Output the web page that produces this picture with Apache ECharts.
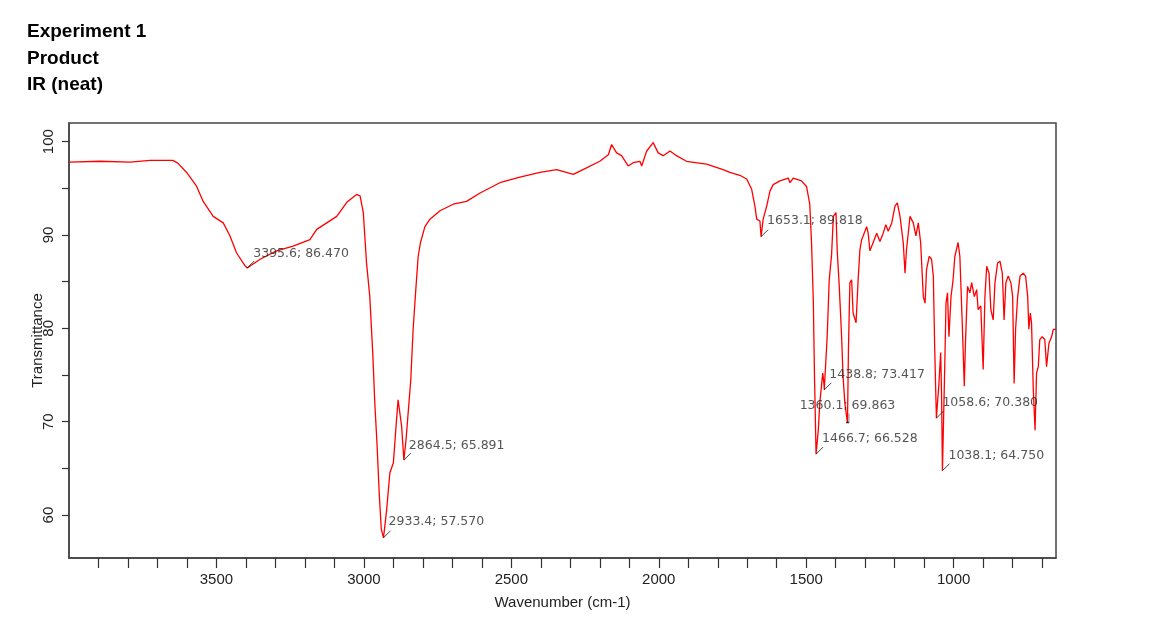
<!DOCTYPE html>
<html>
<head>
<meta charset="utf-8">
<script src="https://cdn.jsdelivr.net/npm/echarts@6/dist/echarts.min.js"></script>
<style>
  html, body { margin: 0; padding: 0; background: #fff; }
  #chart { width: 1157px; height: 641px; }
</style>
</head>
<body>
<div id="chart"></div>
<script>
// spectrum (cm-1, %T)
var wavenumber = [
  4000, 3895, 3793, 3725, 3648, 3631, 3601, 3567, 3545, 3511, 3477, 3454, 3432, 3403, 3395.6,
  3352, 3296, 3240, 3183, 3160, 3126, 3092, 3058, 3025, 3013, 3002, 2991, 2980, 2970, 2963,
  2955, 2948, 2941, 2933.4, 2923, 2912, 2900, 2891, 2884, 2878, 2872, 2864.5, 2857, 2850,
  2841, 2833, 2824, 2816, 2808, 2793, 2776, 2742, 2697, 2652, 2606, 2539, 2471, 2403, 2346,
  2290, 2245, 2200, 2171, 2160, 2143, 2126, 2104, 2087, 2064, 2058, 2041, 2019, 2002, 1985,
  1962, 1940, 1906, 1838, 1782, 1759, 1725, 1702, 1685, 1674, 1668, 1657, 1653.1, 1646, 1634,
  1623, 1612, 1589, 1561, 1555, 1544, 1516, 1499, 1488, 1482, 1476, 1472, 1466.7, 1459, 1454,
  1444, 1440, 1438.8, 1429, 1422, 1414, 1408, 1399, 1395, 1388, 1380, 1375, 1369, 1360.1,
  1357, 1352, 1346, 1341, 1331, 1324, 1318, 1312, 1307, 1295, 1290, 1284, 1273, 1261, 1250,
  1239, 1230, 1222, 1210, 1199, 1191, 1182, 1171, 1165, 1160, 1148, 1137, 1128, 1120, 1112,
  1103, 1097, 1092, 1083, 1075, 1069, 1064, 1058.6, 1050, 1044, 1041, 1038.1, 1030, 1026,
  1021, 1016, 1009, 1002, 996, 990, 985, 979, 971, 964, 960, 953, 945, 939, 930, 922, 917,
  908, 900, 894, 888, 880, 874, 866, 860, 851, 843, 835, 829, 823, 815, 806, 800, 795, 790,
  783, 775, 764, 756, 749, 745, 740, 736, 730, 724, 719, 713, 708, 700, 691, 685, 677, 668,
  662, 653
];
var transmittance = [
  97.8, 97.9, 97.8, 98.0, 98.0, 97.7, 96.7, 95.2, 93.6, 92.0, 91.3, 89.9, 88.1, 86.7, 86.47,
  87.4, 88.3, 88.8, 89.5, 90.6, 91.3, 92.0, 93.5, 94.35, 94.2, 92.4, 87.0, 83.4, 77.4, 72.0,
  67.3, 62.3, 58.5, 57.57, 60.5, 64.5, 65.6, 69.5, 72.35, 72.5, 69.5, 65.89, 68.1, 70.9,
  74.5, 79.9, 84.15, 87.7, 89.2, 90.9, 91.7, 92.6, 93.3, 93.6, 94.5, 95.6, 96.2, 96.7, 97.0,
  96.5, 97.2, 97.9, 98.6, 99.7, 98.8, 98.5, 97.4, 97.75, 97.9, 97.4, 99.0, 99.9, 98.8, 98.5,
  99.0, 98.5, 97.9, 97.6, 97.0, 96.7, 96.4, 96.0, 94.9, 93.1, 91.7, 91.5, 89.82, 91.7, 93.1,
  94.7, 95.4, 95.8, 96.1, 95.6, 96.1, 95.8, 95.2, 93.3, 89.2, 83.0, 75.0, 66.53, 69.1, 72.0,
  75.2, 74.1, 73.42, 79.1, 85.2, 87.9, 92.0, 92.4, 88.4, 84.5, 79.1, 74.8, 72.0, 69.86,
  77.4, 84.9, 85.2, 81.65, 80.6, 85.2, 88.4, 89.5, 89.9, 90.9, 90.2, 88.3, 89.2, 90.2, 89.3,
  90.2, 91.1, 90.4, 91.3, 93.1, 93.45, 92.0, 89.2, 85.9, 88.4, 92.0, 91.3, 89.9, 91.3, 89.2,
  83.4, 82.7, 86.3, 87.7, 87.4, 85.6, 77.4, 70.38, 74.1, 77.4, 72.7, 64.75, 76.3, 82.7,
  83.8, 79.1, 83.4, 85.2, 87.7, 87.9, 89.2, 87.7, 80.6, 73.8, 78.5, 84.5, 83.8, 84.9, 83.4, 84.15, 82.0,
  82.4, 75.6, 83.4, 86.65, 85.9, 82.0, 80.9, 84.9, 87.0, 87.2, 85.9, 80.9, 84.9, 85.6, 84.9, 83.4, 74.1, 79.9,
  83.4, 85.6, 85.9, 85.6, 83.4, 79.9, 81.65, 80.6, 73.4, 69.1, 75.2, 75.9, 78.8, 79.1, 78.8, 75.9, 78.4, 79.1,
  79.9, 79.9
];
// labelled peaks
var peakWn = [3395.6, 2933.4, 2864.5, 1653.1, 1466.7, 1438.8, 1360.1, 1058.6, 1038.1];
var peakT = [86.470, 57.570, 65.891, 89.818, 66.528, 73.417, 69.863, 70.380, 64.750];
// tick labels
var xTicks = [3900, 3800, 3700, 3600, 3500, 3400, 3300, 3200, 3100, 3000, 2900, 2800, 2700, 2600, 2500,
  2400, 2300, 2200, 2100, 2000, 1900, 1800, 1700, 1600, 1500, 1400, 1300, 1200, 1100, 1000, 900, 800, 700];
var xLabels = [3500, 3000, 2500, 2000, 1500, 1000];
var yTicks = [60, 65, 70, 75, 80, 85, 90, 95, 100];
var yLabels = [60, 70, 80, 90, 100];

var spectrum = wavenumber.map(function (w, i) { return [w, transmittance[i]]; });

// label placement next to each peak (px offset of text from the peak)
var labelOffset = [[6, -14], [5, -16], [5, -14], [6, -16], [6, -15], [5, -15], [0, -17], [6, -15], [6, -15]];

var peakLabels = peakWn.map(function (w, i) {
  var centered = (w === 1360.1);
  return {
    value: [w, peakT[i]],
    label: {
      position: [labelOffset[i][0], labelOffset[i][1]],
      align: centered ? 'center' : 'left'
    }
  };
});
var leaders = peakWn.map(function (w, i) {
  if (w === 1360.1) {
    return { value: [w, peakT[i]], symbol: 'path://M0,0L0,10L-2,10', symbolSize: [3, 9], symbolOffset: [0, -5] };
  }
  return { value: [w, peakT[i]] };
});

var chart = echarts.init(document.getElementById('chart'));
chart.setOption({
  animation: false,
  title: {
    text: 'Experiment 1\nProduct\nIR (neat)',
    left: 22,
    top: 14,
    textStyle: { fontFamily: 'Liberation Sans', fontSize: 19, fontWeight: 'bold', color: '#000', lineHeight: 26.5 }
  },
  grid: {
    left: 69, right: 101, top: 123, bottom: 83,
    show: true, borderColor: '#444', borderWidth: 1.5
  },
  xAxis: {
    type: 'value',
    inverse: true,
    min: 653,
    max: 4000,
    name: 'Wavenumber (cm-1)',
    nameLocation: 'middle',
    nameGap: 37,
    nameMoveOverlap: false,
    nameTextStyle: { fontFamily: 'Liberation Sans', fontSize: 15, color: '#222' },
    axisLine: { show: true, lineStyle: { color: '#444', width: 1.5 } },
    axisTick: { show: true, customValues: xTicks, length: 10, lineStyle: { color: '#333', width: 1.2 } },
    axisLabel: {
      customValues: xLabels, margin: 14, fontFamily: 'Liberation Sans', fontSize: 15, color: '#222',
      formatter: function (v) { return String(v); }
    },
    splitLine: { show: false }
  },
  yAxis: {
    type: 'value',
    min: 55.4,
    max: 102,
    name: 'Transmittance',
    nameLocation: 'middle',
    nameGap: 24,
    nameMoveOverlap: false,
    nameTextStyle: { fontFamily: 'Liberation Sans', fontSize: 15, color: '#222' },
    axisLine: { show: true, lineStyle: { color: '#444', width: 1.5 } },
    axisTick: { show: true, customValues: yTicks, length: 7, lineStyle: { color: '#333', width: 1.2 } },
    axisLabel: {
      customValues: yLabels, rotate: 90, margin: 13, fontFamily: 'Liberation Sans', fontSize: 15, color: '#222',
      formatter: function (v) { return String(v); }
    },
    splitLine: { show: false }
  },
  series: [
    {
      name: 'spectrum',
      type: 'line',
      data: spectrum,
      showSymbol: false,
      silent: true,
      lineStyle: { color: '#ff0000', width: 1.3 },
      z: 2
    },
    {
      name: 'leaders',
      type: 'scatter',
      data: leaders,
      symbol: 'path://M0,10L10,0',
      symbolSize: 7,
      symbolOffset: [3.5, -3.5],
      silent: true,
      itemStyle: { color: 'rgba(0,0,0,0)', borderColor: '#111', borderWidth: 1 },
      z: 3
    },
    {
      name: 'labels',
      type: 'scatter',
      data: peakLabels,
      symbolSize: 0,
      silent: true,
      itemStyle: { color: 'rgba(0,0,0,0)' },
      label: {
        show: true,
        verticalAlign: 'middle',
        fontFamily: 'DejaVu Sans',
        fontSize: 12.5,
        color: '#2a2a2a',
        formatter: function (p) { return p.value[0].toFixed(1) + '; ' + p.value[1].toFixed(3); }
      },
      z: 4
    }
  ]
});
</script>
</body>
</html>
